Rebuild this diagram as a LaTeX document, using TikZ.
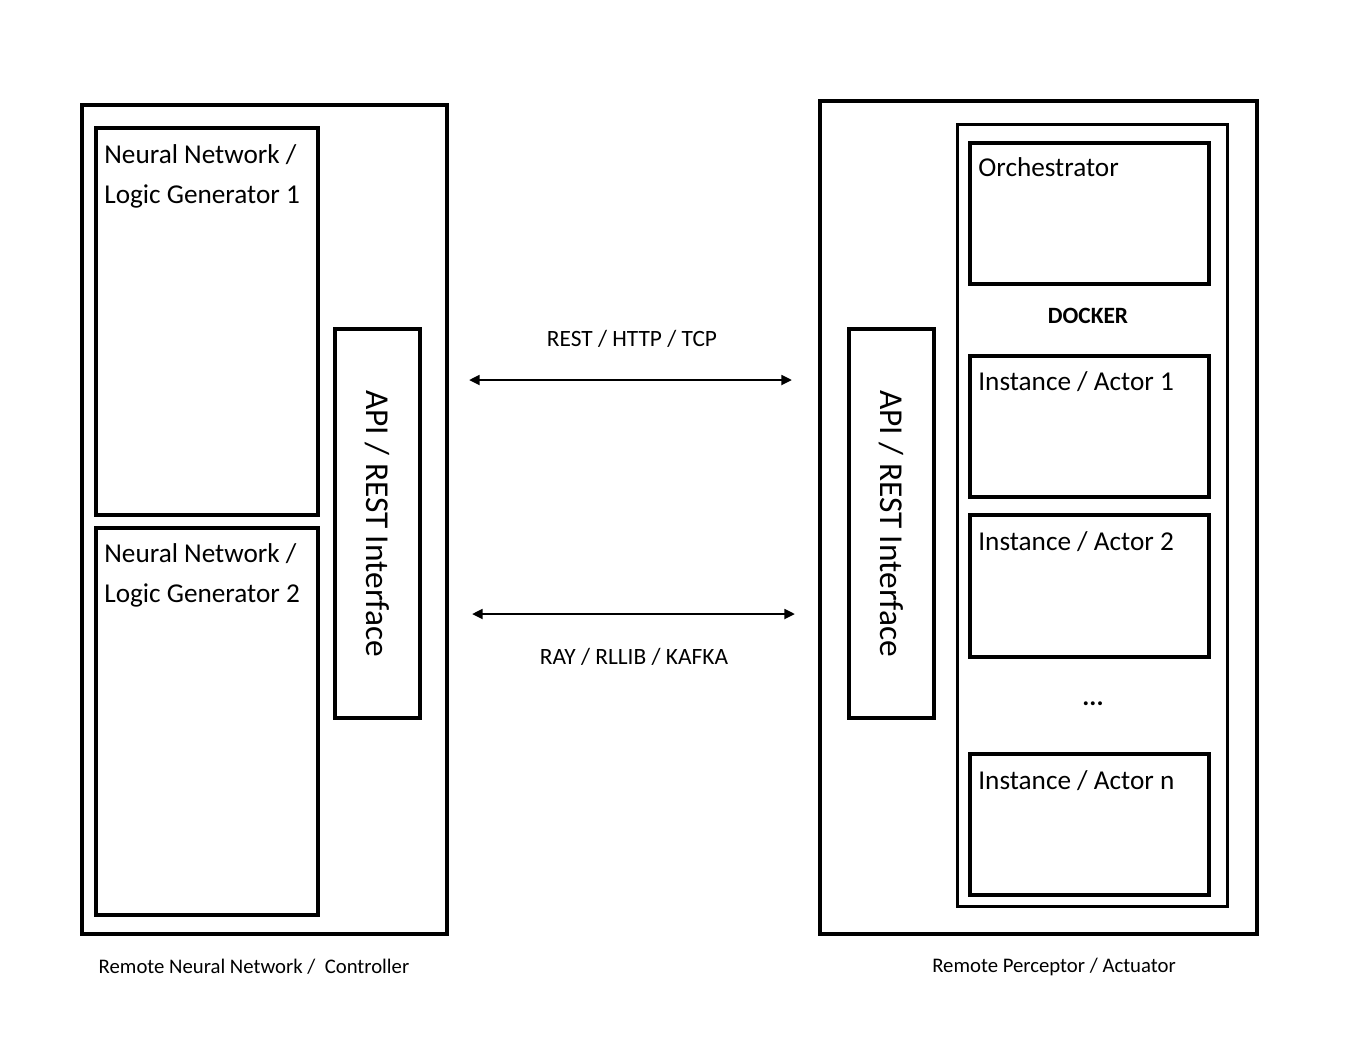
\documentclass[tikz,border=0pt]{standalone}
\usepackage{fontspec}
\setmainfont{Carlito}
\usetikzlibrary{%
  positioning,
  arrows.meta,
}

\begin{document}
\begin{tikzpicture}[%
           x=0.02cm, y=-0.02cm,
           box/.style={
             % The shape:
             rectangle,
             anchor=north west,
             inner sep=0pt,
             outer sep=0pt,
             % The border:
             line width=2.3pt,
             draw=black,
           },
           boxtext/.style={
             anchor=north west,
             inner sep=0pt,
             align=left,
             font=\fontsize{15.5}{22.8}\selectfont,
           },
           interface/.style={
             box,
             anchor=center,
             minimum width=1.70cm,
             minimum height=7.78cm,
           },
           label/.style={
             inner sep=0pt,
             font=\fontsize{13.3}{16}\selectfont,
           },
           link/.style={
             {Triangle[length=6pt,width=5.5pt]}-{Triangle[length=6pt,width=5.5pt]},
             line width=1.6pt,
           }]
         \useasboundingbox (0,0) rectangle (1358,1049);

         % Controller side
         \node[box, minimum width=7.30cm, minimum height=16.58cm] (controller) at (82,105) {};
         \node[box, minimum width=4.44cm, minimum height=7.74cm] (generator1) at (96,128) {};
         \node[box, minimum width=4.44cm, minimum height=7.74cm] (generator2) at (96,528) {};
         \node[boxtext] (generator1text) at (104,144) {Neural Network /\\Logic Generator 1};
         \node[boxtext] (generator2text) at (104,543) {Neural Network /\\Logic Generator 2};
         \node[interface] (apileft) at (377.5,523.5) {};
         \node[rotate=-90, font=\fontsize{19}{22}\selectfont] (apilefttext) at (apileft.center) {API / REST Interface};

         % Perceptor side
         \node[box, minimum width=8.74cm, minimum height=16.66cm] (perceptor) at (820,101) {};
         \node[box, line width=1.7pt, minimum width=5.42cm, minimum height=15.66cm] (docker) at (957,124) {};
         \node[box, minimum width=4.78cm, minimum height=2.82cm] (orchestrator) at (970,143) {};
         \node[box, minimum width=4.78cm, minimum height=2.82cm] (actor1) at (970,356) {};
         \node[box, minimum width=4.78cm, minimum height=2.84cm] (actor2) at (970,515) {};
         \node[box, minimum width=4.78cm, minimum height=2.82cm] (actorn) at (970,754) {};
         \node[boxtext] (orchestratortext) at (978,157) {Orchestrator};
         \node[boxtext] (actor1text) at (978,371) {Instance / Actor 1};
         \node[boxtext] (actor2text) at (978,531) {Instance / Actor 2};
         \node[boxtext] (actorntext) at (978,770) {Instance / Actor n};
         \node[label, font=\fontsize{13.3}{16}\selectfont\bfseries] (dockertext) at (1088,316) {DOCKER};
         \node[label, font=\fontsize{15}{16}\selectfont\bfseries] (dots) at (1093,704) {...};
         \node[interface] (apiright) at (891.5,523.5) {};
         \node[rotate=-90, font=\fontsize{19}{22}\selectfont] (apirighttext) at (apiright.center) {API / REST Interface};

         % Links
         \coordinate (rest1) at (469,380);
         \coordinate (rest2) at (792,380);
         \coordinate (ray1) at (472,614);
         \coordinate (ray2) at (795,614);
         \draw[link] (rest1) -- (rest2);
         \draw[link] (ray1) -- (ray2);
         \node[label] (resttext) at (632,339) {REST / HTTP / TCP};
         \node[label] (raytext) at (634,657) {RAY / RLLIB / KAFKA};

         % Captions
         \node[label, font=\fontsize{11.8}{14}\selectfont] (controllertext) at (254,967) {Remote Neural Network /\ \ Controller};
         \node[label, font=\fontsize{11.8}{14}\selectfont] (perceptortext) at (1054,967) {Remote Perceptor / Actuator};
       \end{tikzpicture}
\end{document}
